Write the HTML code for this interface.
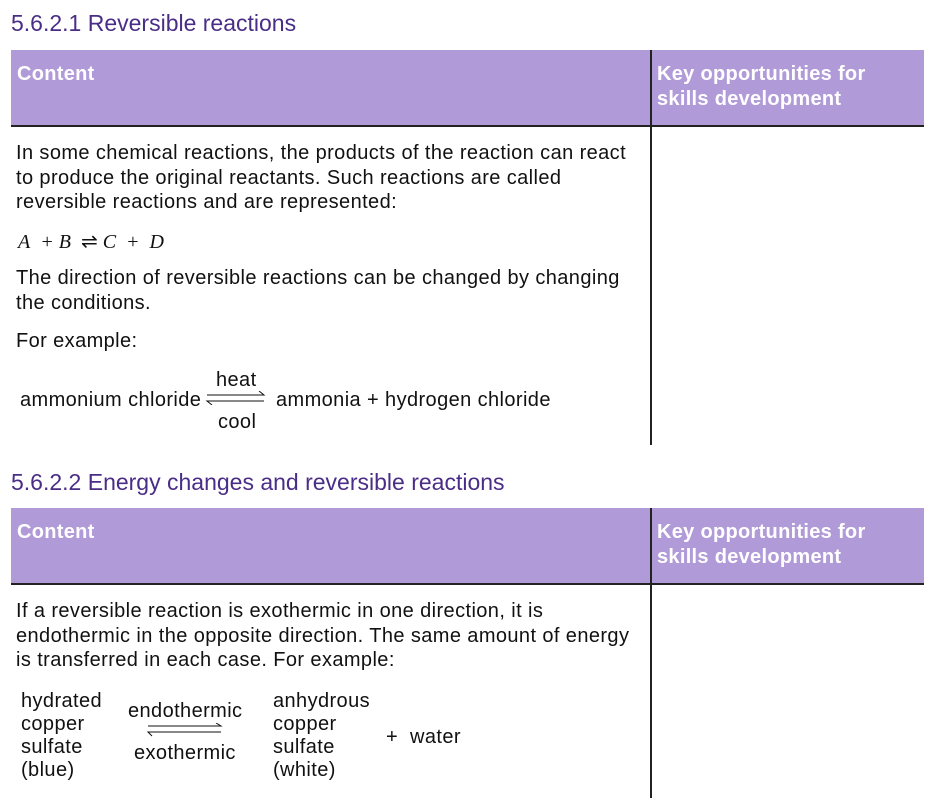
<!DOCTYPE html>
<html><head><meta charset="utf-8"><style>
body{margin:0;width:938px;height:812px;background:#fff;position:relative;font-family:"Liberation Sans",Arial,sans-serif;color:#111;overflow:hidden}
.a{position:absolute;white-space:nowrap}
.t{font-size:23px;color:#4a2d86;}
.hd{position:absolute;left:11px;width:913px;height:75px;background:#b09ad8;border-bottom:2px solid #222}
.hd b{position:absolute;color:#fff;font-size:20px;line-height:25px;letter-spacing:0.3px}
.v{position:absolute;left:650px;width:2px;background:#222}
.p{font-size:20px;line-height:24.5px;letter-spacing:0.4px}
.s{font-size:20px;letter-spacing:0.4px}
</style></head><body>
<div class="a t" style="left:11px;top:10px">5.6.2.1 Reversible reactions</div>
<div class="hd" style="top:50px"><b style="left:6px;top:12px">Content</b><b style="left:646px;top:12px">Key opportunities for<br>skills development</b></div>
<div class="v" style="top:50px;height:395px"></div>
<div class="a p" style="left:16px;top:141px">In some chemical reactions, the products of the reaction can react<br>to produce the original reactants. Such reactions are called<br>reversible reactions and are represented:</div>
<div class="a" style="left:18px;top:229px;font-family:'Liberation Serif',serif;font-style:italic;font-size:20px;letter-spacing:0px">A&nbsp; + B&nbsp; <span style="font-style:normal">⇌</span> C&nbsp; +&nbsp; D</div>
<div class="a p" style="left:16px;top:266px">The direction of reversible reactions can be changed by changing<br>the conditions.</div>
<div class="a p" style="left:16px;top:329px">For example:</div>
<div class="a s" style="left:20px;top:389px">ammonium chloride</div>
<div class="a s" style="left:216px;top:369px">heat</div>
<div class="a s" style="left:218px;top:411px">cool</div>
<svg class="a" style="left:205px;top:391px" width="62" height="14"><path d="M2 4H59L54 0M59 10H2L7 14" stroke="#111" fill="none" stroke-width="1"/></svg>
<div class="a s" style="left:276px;top:389px">ammonia + hydrogen chloride</div>

<div class="a t" style="left:11px;top:469px">5.6.2.2 Energy changes and reversible reactions</div>
<div class="hd" style="top:508px"><b style="left:6px;top:12px">Content</b><b style="left:646px;top:12px">Key opportunities for<br>skills development</b></div>
<div class="v" style="top:508px;height:290px"></div>
<div class="a p" style="left:16px;top:599px">If a reversible reaction is exothermic in one direction, it is<br>endothermic in the opposite direction. The same amount of energy<br>is transferred in each case. For example:</div>
<div class="a s" style="left:21px;top:690px;line-height:23px">hydrated<br>copper<br>sulfate<br>(blue)</div>
<div class="a s" style="left:128px;top:700px">endothermic</div>
<div class="a s" style="left:134px;top:742px">exothermic</div>
<svg class="a" style="left:146px;top:723px" width="78" height="14"><path d="M2 3H75L70 0M75 9H2L6 13" stroke="#111" fill="none" stroke-width="1"/></svg>
<div class="a s" style="left:273px;top:690px;line-height:23px">anhydrous<br>copper<br>sulfate<br>(white)</div>
<div class="a s" style="left:386px;top:726px">+&nbsp; water</div>
</body></html>
